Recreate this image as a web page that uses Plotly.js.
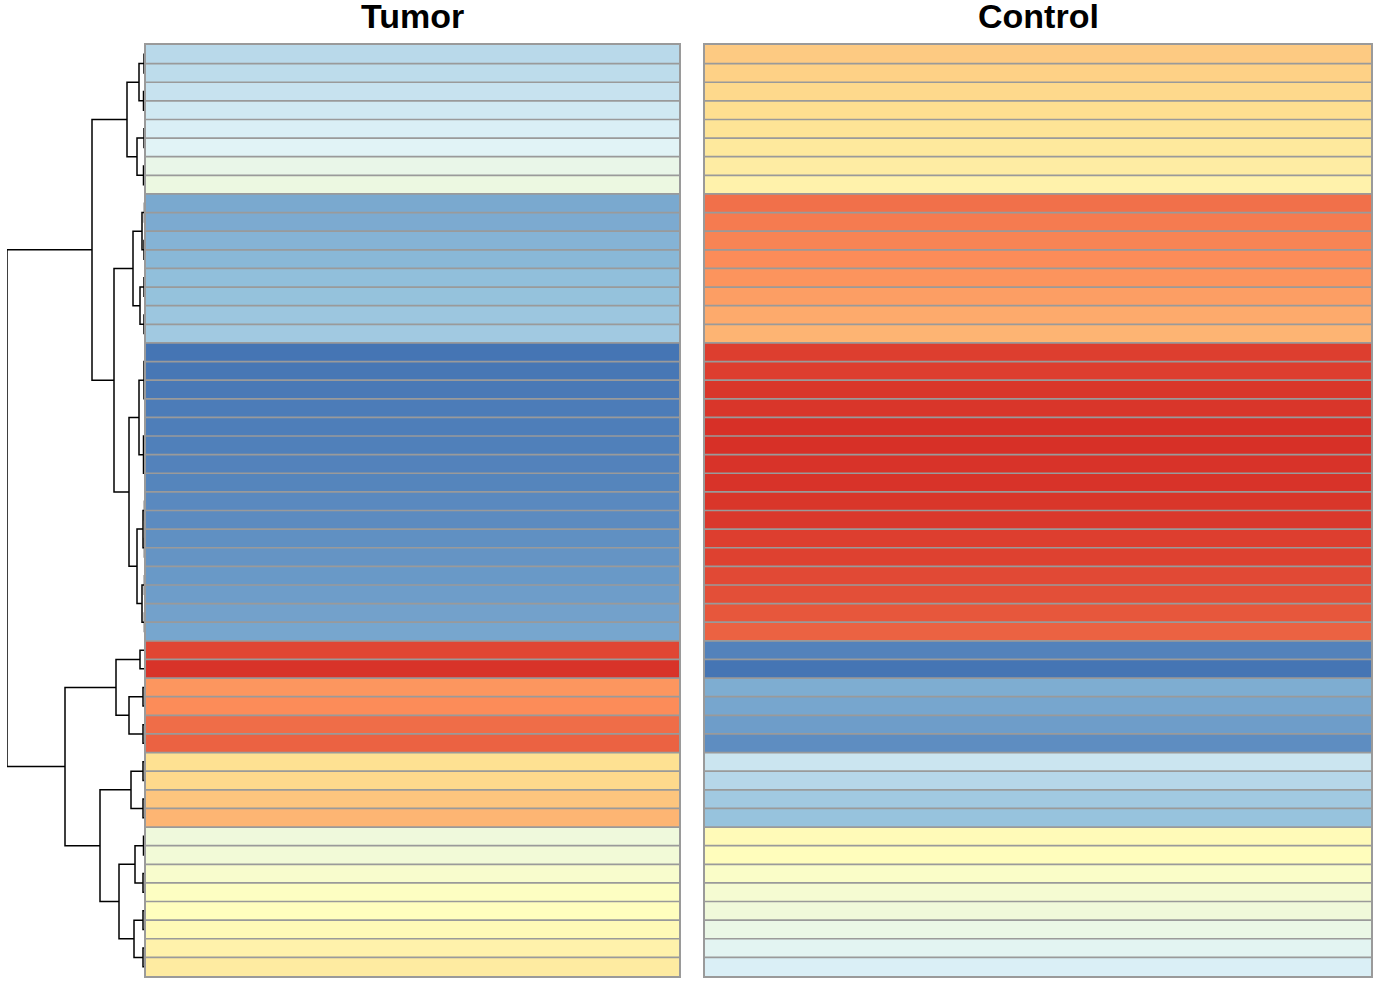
<!DOCTYPE html>
<html>
<head>
<meta charset="utf-8">
<script src="https://cdn.plot.ly/plotly-3.0.1.min.js"></script>
<style>html,body{margin:0;padding:0;background:#fff;}#chart{width:1384px;height:988px;}</style>
</head>
<body>
<div id="chart"></div>
<script>
// Column labels
const columns = ["Tumor", "Control"];

// Cell values (0 = deepest blue, 1 = deepest red), rows top to bottom
const tumor = [
  0.25, 0.26, 0.28, 0.30, 0.32, 0.34, 0.38, 0.40,
  0.116, 0.12, 0.14, 0.15, 0.167, 0.175, 0.19, 0.20,
  0.0, 0.005, 0.01, 0.015, 0.02, 0.025, 0.03, 0.035,
  0.045, 0.05, 0.06, 0.07, 0.08, 0.09, 0.10, 0.11,
  0.96, 0.995,
  0.815, 0.835, 0.89, 0.91,
  0.66, 0.68, 0.72, 0.754,
  0.415, 0.43, 0.46, 0.49, 0.505, 0.53, 0.57, 0.607
];
const control = [
  0.71, 0.697, 0.68, 0.668, 0.645, 0.62, 0.60, 0.57,
  0.885, 0.865, 0.85, 0.835, 0.82, 0.80, 0.775, 0.755,
  0.975, 0.975, 0.99, 0.99, 1.0, 1.0, 0.995, 0.995,
  0.99, 0.985, 0.975, 0.97, 0.955, 0.945, 0.93, 0.91,
  0.03, 0.0,
  0.125, 0.11, 0.09, 0.055,
  0.29, 0.245, 0.20, 0.18,
  0.525, 0.51, 0.475, 0.445, 0.42, 0.385, 0.35, 0.32
];

// Row dendrogram (hclust-style: negative = leaf row, positive = earlier merge)
const mergeLeft  = [-1,-3, 1,-5,-7, 4, 3,-9,-11, 8,-13,-15,11,10,-17,-19,15,-21,-23,18,17,-25,-27,22,-29,-31,25,24,21,14, 7,-33,-35,-37,33,32,-39,-41,37,-43,-45,40,-47,-49,43,42,39,36,31];
const mergeRight = [-2,-4, 2,-6,-8, 5, 6,-10,-12, 9,-14,-16,12,13,-18,-20,16,-22,-24,19,20,-26,-28,23,-30,-32,26,27,28,29,30,-34,-36,-38,34,35,-40,-42,38,-44,-46,41,-48,-50,44,45,46,47,48];
const mergeHeight= [ 2,2.5,7, 2,2.5, 9,19,1.5, 2, 4, 2, 2, 6,13, 1, 1, 2, 1, 1,2.5, 7,1.5,1.5, 3,1.5,1.5, 4, 9,17,32,54, 6, 3, 3,17,30, 3, 3,15,2.5, 3,11, 3, 3,12,27,46,81,139];

const nRows = tumor.length;
const rowIdx = tumor.map((_, i) => i + 1);

const colorscale = [
  [0, '#4575B4'], [1/6, '#91BFDB'], [2/6, '#E0F3F8'], [0.5, '#FFFFBF'],
  [4/6, '#FEE090'], [5/6, '#FC8D59'], [1, '#D73027']
];

// dendrogram geometry
const nodePos = [], nodeH = [];
function getPos(id){ return id < 0 ? -id : nodePos[id - 1]; }
function getH(id){ return id < 0 ? 0 : nodeH[id - 1]; }
const dx = [], dy = [];
for (let k = 0; k < mergeLeft.length; k++) {
  const l = mergeLeft[k], r = mergeRight[k], h = mergeHeight[k];
  const pl = getPos(l), pr = getPos(r);
  dx.push(getH(l), h, h, getH(r), null);
  dy.push(pl, pl, pr, pr, null);
  nodePos.push((pl + pr) / 2);
  nodeH.push(h);
}

// separator lines between rows
function sepLines(){
  const x = [], y = [];
  for (let i = 1; i < nRows; i++) { x.push(-0.5, 0.5, null); y.push(i + 0.5, i + 0.5, null); }
  return {x, y};
}
const sep = sepLines();

const W = 1384, H = 988;
const yDom = [1 - 976/H, 1 - 45/H];
const dendroDom = [7/W, 146/W];
const tumorDom = [146/W, 679/W];
const controlDom = [705/W, 1371/W];

const gridColor = '#9a9a9a';

const traces = [
  {type: 'scatter', mode: 'lines', x: dx, y: dy, xaxis: 'x', yaxis: 'y',
   line: {color: '#000', width: 1.5}, hoverinfo: 'skip', cliponaxis: false, showlegend: false},
  {type: 'heatmap', x: [0], y: rowIdx, z: tumor.map(v => [v]), xaxis: 'x2', yaxis: 'y2',
   colorscale: colorscale, zmin: 0, zmax: 1, showscale: false, name: columns[0]},
  {type: 'scatter', mode: 'lines', x: sep.x, y: sep.y, xaxis: 'x2', yaxis: 'y2',
   line: {color: gridColor, width: 1.7}, hoverinfo: 'skip', showlegend: false},
  {type: 'heatmap', x: [0], y: rowIdx, z: control.map(v => [v]), xaxis: 'x3', yaxis: 'y3',
   colorscale: colorscale, zmin: 0, zmax: 1, showscale: false, name: columns[1]},
  {type: 'scatter', mode: 'lines', x: sep.x, y: sep.y, xaxis: 'x3', yaxis: 'y3',
   line: {color: gridColor, width: 1.7}, hoverinfo: 'skip', showlegend: false}
];

const hidden = {showgrid: false, zeroline: false, showticklabels: false, ticks: '', showline: false};
const boxed = {showgrid: false, zeroline: false, showticklabels: false, ticks: '',
  showline: true, mirror: true, linecolor: gridColor, linewidth: 1.8};

const titleFont = {family: 'Liberation Sans, Arial, sans-serif', size: 34, color: '#000'};

const layout = {
  width: W, height: H,
  margin: {l: 0, r: 0, t: 0, b: 0, pad: 0},
  paper_bgcolor: '#fff', plot_bgcolor: '#fff',
  showlegend: false,
  xaxis: Object.assign({domain: dendroDom, range: [139, 0], anchor: 'y'}, hidden),
  yaxis: Object.assign({domain: yDom, range: [nRows + 0.5, 0.5], anchor: 'x'}, hidden),
  xaxis2: Object.assign({domain: tumorDom, range: [-0.5, 0.5], anchor: 'y2'}, boxed),
  yaxis2: Object.assign({domain: yDom, range: [nRows + 0.5, 0.5], anchor: 'x2'}, boxed),
  xaxis3: Object.assign({domain: controlDom, range: [-0.5, 0.5], anchor: 'y3'}, boxed),
  yaxis3: Object.assign({domain: yDom, range: [nRows + 0.5, 0.5], anchor: 'x3'}, boxed),
  annotations: [
    {text: '<b>' + columns[0] + '</b>', xref: 'paper', yref: 'paper',
     x: (tumorDom[0] + tumorDom[1]) / 2, y: 1 - 16/H, xanchor: 'center', yanchor: 'middle',
     showarrow: false, font: titleFont},
    {text: '<b>' + columns[1] + '</b>', xref: 'paper', yref: 'paper',
     x: (controlDom[0] + controlDom[1]) / 2, y: 1 - 16/H, xanchor: 'center', yanchor: 'middle',
     showarrow: false, font: titleFont}
  ]
};

Plotly.newPlot('chart', traces, layout, {displayModeBar: false, staticPlot: true});
</script>
</body>
</html>
